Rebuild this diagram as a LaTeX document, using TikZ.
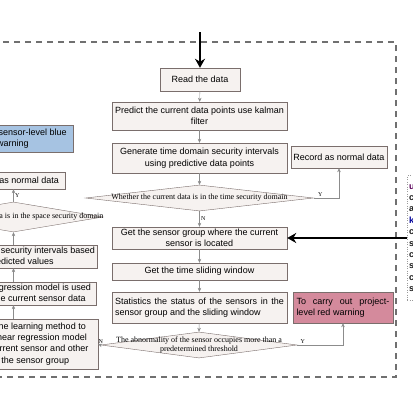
\documentclass[tikz,border=0pt]{standalone}
\usepackage{fontspec}
\setmainfont{Liberation Sans}
\newfontfamily\serifface{Liberation Serif}
\usetikzlibrary{arrows.meta, shapes.geometric}

\definecolor{boxfill}{HTML}{F6F2F0}
\definecolor{boxline}{HTML}{7A6E6C}
\definecolor{arrowgray}{HTML}{8C8C8C}
\definecolor{bluefill}{HTML}{A6C3E2}
\definecolor{redfill}{HTML}{D48A9C}
\definecolor{framegray}{HTML}{707070}
\definecolor{sidegray}{HTML}{9A9A9A}

\begin{document}
\begin{tikzpicture}[x=1pt, y=-1pt,
    box/.style={draw=boxline, fill=boxfill, inner sep=1pt, align=center, font=\fontsize{9}{11.5}\selectfont},
    justified/.style={align=justify, execute at begin node={\tolerance=10000\hyphenpenalty=10000}},
    dec/.style={diamond, draw=boxline, fill=boxfill, inner sep=0pt},
    dectext/.style={font=\serifface\fontsize{8}{8.5}\selectfont, align=center, inner sep=0pt},
    yn/.style={font=\serifface\fontsize{6}{7}\selectfont, inner sep=1.5pt},
    flow/.style={draw=arrowgray, -{Stealth[length=4pt, width=3.5pt]}},
    bigarrow/.style={line width=2.4pt, -{Stealth[length=9pt, width=10pt]}},
    frame/.style={draw=framegray, line width=1.1pt, dash pattern=on 6pt off 5pt}]
    \useasboundingbox (0, 0) rectangle (413, 413);

    % outer frame
    \draw[frame] (-10, 42) rectangle (396, 377);

    % middle column
    \coordinate (start) at (200, 32);
    \node[box, minimum width=80pt, minimum height=23pt] (read) at (200, 79.5) {Read the data};
    \node[box, minimum width=175pt, minimum height=28pt] (predict) at (199.5, 116) {Predict the current data points use kalman\\filter};
    \node[box, minimum width=175pt, minimum height=30pt] (gen) at (199.5, 158) {Generate time domain security intervals\\using predictive data points};
    \node[box, minimum width=96pt, minimum height=22pt] (rec) at (339, 157) {Record as normal data};
    \node[dec, minimum width=228pt, minimum height=26pt, label={[dectext]center:Whether the current data is in the time security domain}] (d1) at (199.5, 198) {};
    \node[box, minimum width=175pt, minimum height=22pt] (group) at (199.5, 238) {Get the sensor group where the current\\sensor is located};
    \node[box, minimum width=175pt, minimum height=17pt] (window) at (199.5, 271.5) {Get the time sliding window};
    \node[box, justified, minimum width=175pt, minimum height=31pt, text width=169pt] (stats) at (199.5, 307.5) {Statistics the status of the sensors in the sensor group and the sliding window};
    \node[box, justified, fill=redfill, minimum width=100pt, minimum height=31pt, text width=93pt] (red) at (343, 307.5) {To carry out project-level red warning};
    \node[dec, minimum width=196pt, minimum height=26pt, label={[dectext]center:The abnormality of the sensor occupies more than a\\predetermined threshold}] (d2) at (199, 345) {};

    % left column
    \coordinate (lc) at (13.5, 0);
    \node[box, fill=bluefill, minimum width=120pt, minimum height=27pt] (blue) at (13, 138.5) {Carry out sensor-level blue\\warning};
    \node[box, minimum width=103pt, minimum height=17pt] (recL) at (13.5, 180.5) {Record as normal data};
    \node[dec, minimum width=179pt, minimum height=30pt, label={[dectext]center:Whether the current data is in the space security domain}] (dL) at (13.5, 217) {};
    \node[box, minimum width=164.6pt, minimum height=23pt] (secL) at (14.7, 256.5) {Generate space security intervals based\\on predicted values};
    \node[box, minimum width=152.6pt, minimum height=23pt] (regL) at (19.7, 293.5) {The linear regression model is used\\to predict the current sensor data};
    \node[box, minimum width=169pt, minimum height=50pt, font=\fontsize{9}{11.2}\selectfont] (learnL) at (13.5, 344) {Use the machine learning method to\\establish the linear regression model\\between the current sensor and other\\sensors in the sensor group};

    % right side panel
    \node[draw=sidegray, dotted, anchor=west, minimum width=34pt, minimum height=125pt, text width=30pt, align=left, inner sep=2pt, text=black!90, font=\bfseries\fontsize{9}{11.4}\selectfont] (side) at (407, 238) {\textcolor{violet!70!black}{u}\\c\\a\\\textcolor{blue!60!black}{k}\\c\\s\\c\\s\\c\\s};

    % connectors
    \draw[bigarrow] (start) -- (read.north);
    \draw[bigarrow] (side.west) -- (group.east);
    \draw[flow] (read) -- (predict);
    \draw[flow] (predict) -- (gen);
    \draw[flow] (gen) -- (d1.north);
    \draw[flow] (d1.south) -- node[yn, right]{N} (group.north);
    \draw[flow] (d1.east) -| node[yn, above, pos=0.13]{Y} (rec.south);
    \draw[flow] (group) -- (window);
    \draw[flow] (window) -- (stats);
    \draw[flow] (stats) -- (d2.north);
    \draw[flow] (d2.east) -| node[yn, above, pos=0.06]{Y} (red.south);
    \draw[flow] (d2.west) -- node[yn, above, pos=0]{N} (learnL.east);
    \draw[flow] (learnL.north -| lc) -- (regL.south -| lc);
    \draw[flow] (regL.north -| lc) -- (secL.south -| lc);
    \draw[flow] (secL.north -| lc) -- (dL.south);
    \draw[flow] (dL.north) -- node[yn, right]{Y} (recL.south);
\end{tikzpicture}
\end{document}
